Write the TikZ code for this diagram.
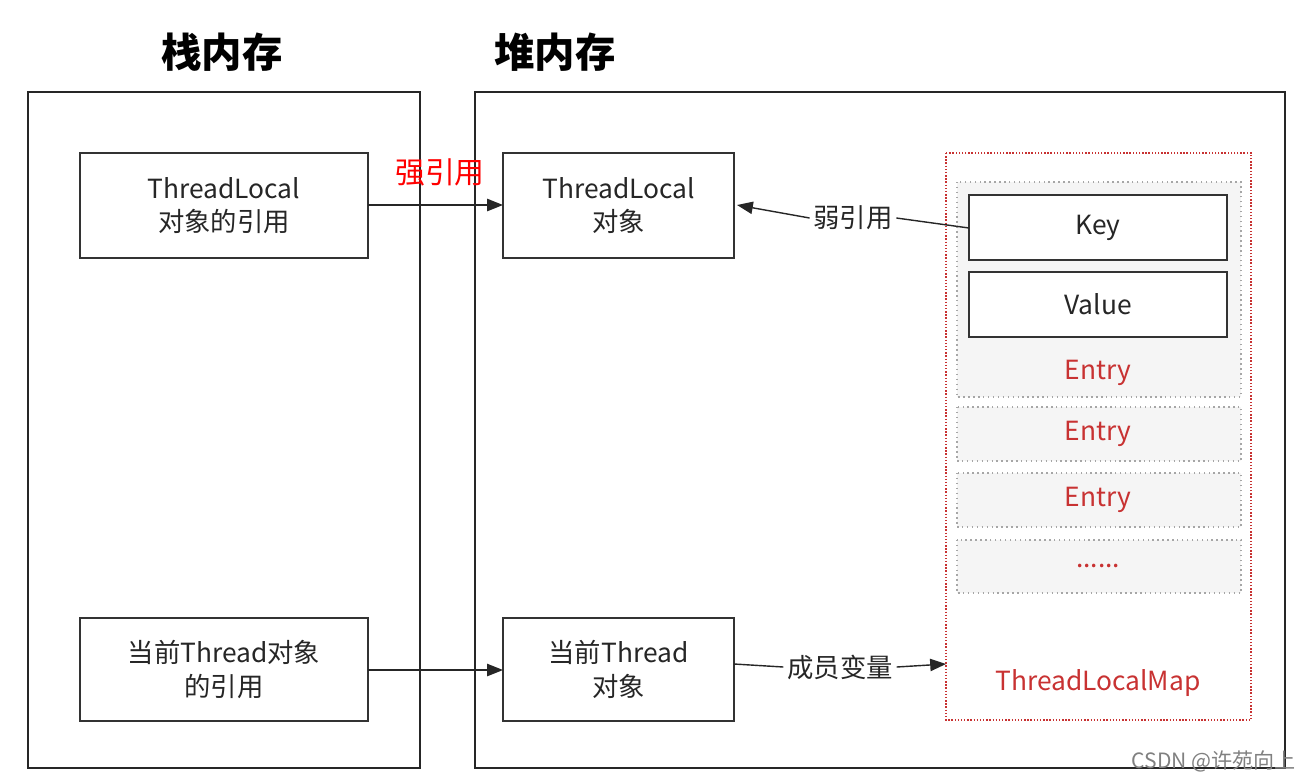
\documentclass[tikz,border=0pt]{standalone}
\usepackage{fontspec}
\setmainfont{Noto Sans CJK SC}
\usetikzlibrary{arrows.meta}
\definecolor{redt}{RGB}{200,50,50}
\begin{document}
\begin{tikzpicture}[x=0.02cm,y=-0.02cm,
  box/.style={draw=black!80,line width=0.9pt,fill=white},
  txt/.style={font=\fontsize{15}{19}\selectfont,align=center,text=black!85},
  ent/.style={draw=black!35,dotted,line width=0.8pt,fill=black!4},
  arr/.style={-{Triangle[length=9pt,width=7pt]},line width=0.8pt,black!85}]
\useasboundingbox (0,0) rectangle (1308,782);
\node[font=\fontsize{23}{27}\selectfont\bfseries] (t1) at (222,52) {栈内存};
\node[font=\fontsize{23}{27}\selectfont\bfseries] (t2) at (555,52) {堆内存};
\draw[line width=1pt,black!85] (28,92) rectangle (420,768);
\draw[line width=1pt,black!85] (475,92) rectangle (1285,768);
\draw[box] (80,153) rectangle (368,258); \node[txt] (A) at (224,205.5) {ThreadLocal\\对象的引用};
\draw[box] (503,153) rectangle (734,258); \node[txt] (B) at (618.5,205.5) {ThreadLocal\\对象};
\draw[box] (80,618) rectangle (368,721); \node[txt] (C) at (224,669.5) {当前Thread对象\\的引用};
\draw[box] (503,618) rectangle (734,721); \node[txt] (D) at (618.5,669.5) {当前Thread\\对象};
\draw[redt,densely dotted,line width=0.8pt] (946,153) rectangle (1251,720);
\draw[ent] (957,182) rectangle (1241,397);
\draw[ent] (957,407) rectangle (1241,461);
\draw[ent] (957,473) rectangle (1241,527);
\draw[ent] (957,540) rectangle (1241,593);
\draw[box] (969,195) rectangle (1227,260); \node[txt] (key) at (1098,227.5) {Key};
\draw[box] (969,272) rectangle (1227,337); \node[txt] (val) at (1098,304.5) {Value};
\node[txt,text=redt] (e1) at (1098,373) {Entry};
\node[txt,text=redt] (e2) at (1098,434) {Entry};
\node[txt,text=redt] (e3) at (1098,500) {Entry};
\node[txt,text=redt] (e4) at (1098,566) {......};
\node[txt,text=redt] (map) at (1098,683) {ThreadLocalMap};
\coordinate (Ar) at (368,205); \coordinate (Bl) at (503,205);
\draw[arr] (Ar) -- (Bl);
\node[font=\fontsize{17}{20}\selectfont,text=red] (qy) at (440,172) {强引用};
\coordinate (Cr) at (368,670); \coordinate (Dl) at (503,670);
\draw[arr] (Cr) -- (Dl);
\node[txt,fill=white,inner sep=2pt] (cy) at (840,667) {成员变量};
\coordinate (Dr) at (734,664); \coordinate (Mr) at (946,664);
\draw[line width=0.8pt,black!85] (Dr) -- (cy.west);
\draw[arr] (cy.east) -- (Mr);
\node[txt,inner sep=2pt] (ry) at (853,218) {弱引用};
\coordinate (Kl) at (969,228); \coordinate (Br) at (737,205);
\draw[line width=0.8pt,black!85] (Kl) -- (ry.east);
\draw[arr] (ry.west) -- (Br);
\node[font=\fontsize{12}{14}\selectfont,text=black!50,anchor=south east] (wm) at (1302,778) {CSDN @许苑向上};
\end{tikzpicture}
\end{document}
